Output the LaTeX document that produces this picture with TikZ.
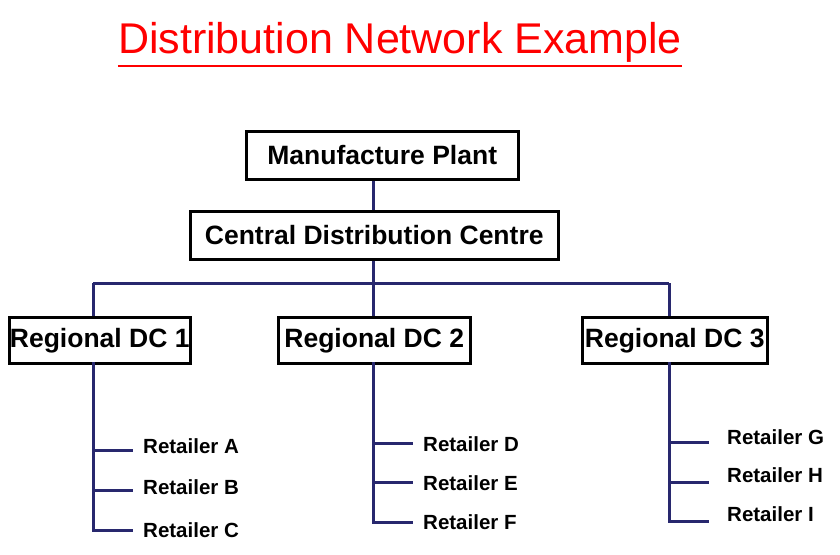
\documentclass[tikz,border=0pt]{standalone}
\usepackage{fontspec}
\setmainfont{Liberation Sans}
\begin{document}
\begin{tikzpicture}[x=1pt,y=-1pt,
  box/.style={draw=black,line width=2.5pt,font=\fontsize{26.5}{30}\selectfont\bfseries,inner sep=0pt,anchor=north west},
  ret/.style={font=\fontsize{20.5}{24}\selectfont\bfseries,anchor=west,inner sep=0pt},
  ln/.style={draw={rgb,255:red,40;green,40;blue,110},line width=3pt}]
\useasboundingbox[fill=white] (0,0) rectangle (840,554);
\node[text=red,font=\fontsize{43}{50}\selectfont,inner sep=0pt] (title) at (400,42) {Distribution Network Example};
\draw[red,line width=2pt] ([yshift=-4pt]title.south west) -- ([yshift=-4pt]title.south east);
\node[box,minimum width=272pt,minimum height=48pt] (mp) at (245,130) {Manufacture Plant};
\node[box,minimum width=368pt,minimum height=48pt] (cdc) at (189,210) {Central Distribution Centre};
\node[box,minimum width=181pt,minimum height=46pt] (r1) at (8,316) {Regional DC 1};
\node[box,minimum width=192pt,minimum height=46pt] (r2) at (277,316) {Regional DC 2};
\node[box,minimum width=185pt,minimum height=46pt] (r3) at (581,316) {Regional DC 3};
\node[ret] (a) at (143,446) {Retailer A};
\node[ret] (b) at (143,487) {Retailer B};
\node[ret] (c) at (143,530) {Retailer C};
\node[ret] (d) at (423,444) {Retailer D};
\node[ret] (e) at (423,483) {Retailer E};
\node[ret] (f) at (423,522) {Retailer F};
\node[ret] (g) at (727,437) {Retailer G};
\node[ret] (h) at (727,475) {Retailer H};
\node[ret] (i) at (727,514) {Retailer I};
\coordinate (j) at (373,283);
\path[ln] (mp.south -| j) -- (cdc.north -| j);
\path[ln] (cdc.south -| j) -- (j);
\path[ln] (93,283) -- (669,283);
\path[ln] (93,283) -- (93,316);
\path[ln] (j) -- (373,316);
\path[ln] (669,283) -- (669,316);
\path[ln] (93,362) -- (93,530) -- (133,530);
\path[ln] (93,450) -- (133,450);
\path[ln] (93,490) -- (133,490);
\path[ln] (373,362) -- (373,522) -- (413,522);
\path[ln] (373,443) -- (413,443);
\path[ln] (373,482) -- (413,482);
\path[ln] (669,362) -- (669,521) -- (709,521);
\path[ln] (669,442) -- (709,442);
\path[ln] (669,482) -- (709,482);
\end{tikzpicture}
\end{document}
